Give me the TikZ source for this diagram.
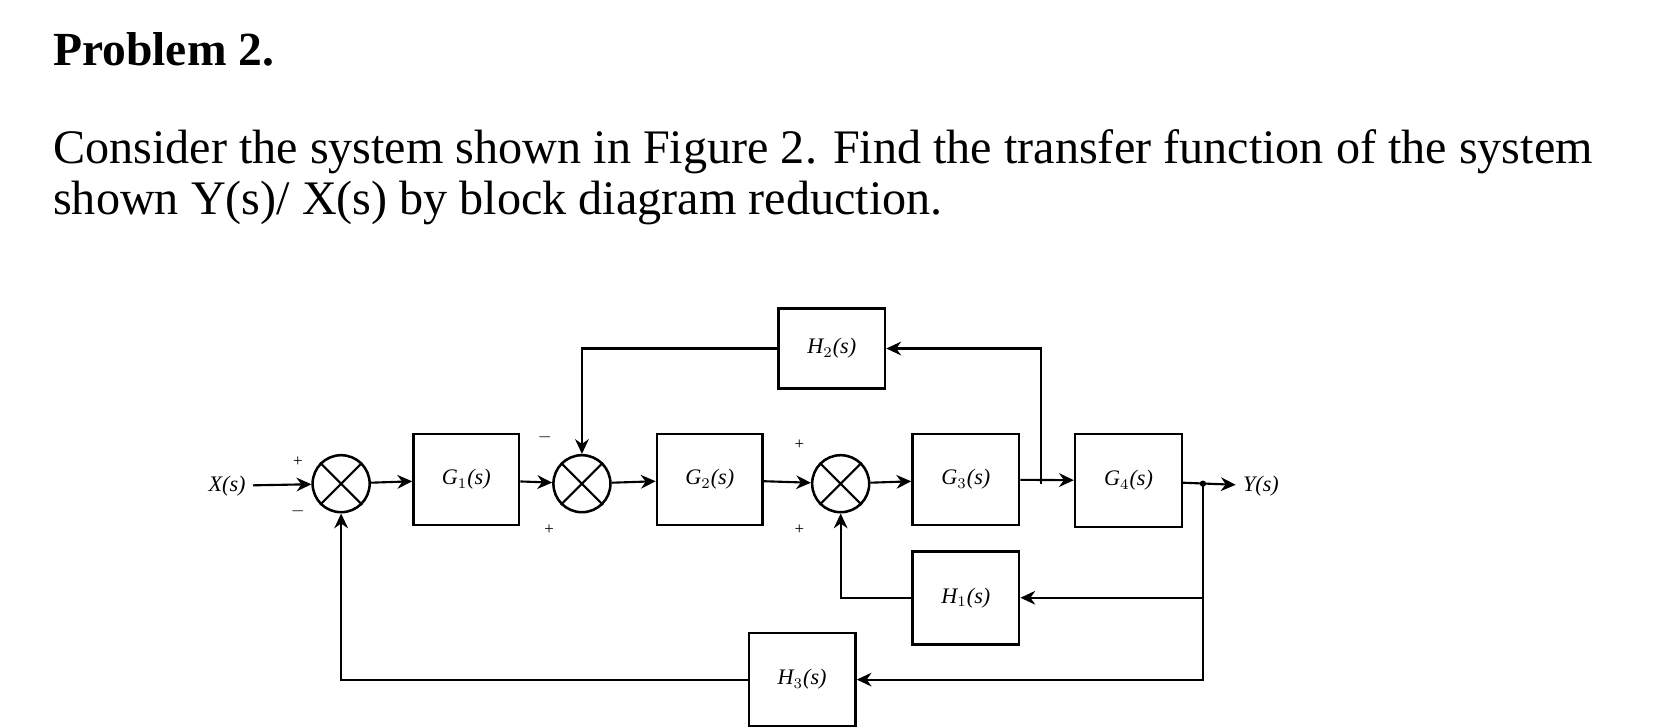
\documentclass[tikz,border=0pt]{standalone}
\usepackage{fontspec}
\setmainfont{Liberation Serif}
\usetikzlibrary{arrows.meta}
\begin{document}
\begin{tikzpicture}[x=0.5pt,y=-0.5pt,
  blk/.style={draw,line width=1.2pt,inner sep=0pt,font=\fontsize{10.5}{12}\selectfont\itshape},
  sm/.style={draw,circle,line width=1.2pt,minimum size=27pt,inner sep=0pt},
  ln/.style={line width=1pt},
  ar/.style={ln,-{Stealth[length=7pt,width=6.5pt]}},
  sg/.style={font=\fontsize{8}{9}\selectfont}]
\useasboundingbox (0,0) rectangle (1568,688.4);
\node[anchor=base west,inner sep=0pt,font=\fontsize{22.5}{24}\selectfont\bfseries] (title) at (50,62) {Problem 2.};
\node[anchor=base west,inner sep=0pt,font=\fontsize{22.8}{24}\selectfont] (l1) at (50,155) {Consider the system shown in Figure 2. Find the transfer function of the system};
\node[anchor=base west,inner sep=0pt,font=\fontsize{22.8}{24}\selectfont] (l2) at (50,203) {shown Y(s)/ X(s) by block diagram reduction.};

\node[font=\fontsize{10.5}{12}\selectfont\itshape] (x) at (215,460) {X(s)};
\node[sm] (s1) at (323,458) {};
\node[sm] (s2) at (551,458) {};
\node[sm] (s3) at (796,458) {};
\foreach \s in {s1,s2,s3}{\draw[ln] (\s.45)--(\s.225) (\s.135)--(\s.315);}
\node[blk,minimum width=50pt,minimum height=43pt] (g1) at (441.5,454) {G$_1$(s)};
\node[blk,minimum width=50pt,minimum height=43pt] (g2) at (672,454) {G$_2$(s)};
\node[blk,minimum width=50.5pt,minimum height=43pt] (g3) at (914.5,454) {G$_3$(s)};
\node[blk,minimum width=50.5pt,minimum height=44pt] (g4) at (1068.5,455) {G$_4$(s)};
\node[blk,minimum width=50.5pt,minimum height=38pt] (h2) at (787.5,330) {H$_2$(s)};
\node[blk,minimum width=50.5pt,minimum height=44pt] (h1) at (914.5,566) {H$_1$(s)};
\node[blk,minimum width=50.5pt,minimum height=44pt] (h3) at (759.5,643.5) {H$_3$(s)};
\node[font=\fontsize{10.5}{12}\selectfont\itshape,anchor=west] (y) at (1170,460) {Y(s)};
\coordinate (b1) at (986,458);
\coordinate (b2) at (1139,458);
\fill (b2) circle (3);

\draw[ar] (x) -- (s1);
\draw[ar] (s1) -- (g1);
\draw[ar] (g1) -- (s2);
\draw[ar] (s2) -- (g2);
\draw[ar] (g2) -- (s3);
\draw[ar] (s3) -- (g3);
\draw[ar] (g3) -- (g4);
\draw[ar] (g4) -- (y);
\draw[ar] (b1) |- (h2);
\draw[ar] (h2) -| (s2);
\draw[ar] (b2) |- (h1);
\draw[ar] (h1) -| (s3);
\draw[ar] (b2) |- (h3);
\draw[ar] (h3) -| (s1);

\node[sg] (p1) at (282,437) {+};
\node[sg] (m1) at (282,484) {$-$};
\node[sg] (m2) at (516,414) {$-$};
\node[sg] (p2) at (520,502) {+};
\node[sg] (p3) at (757,421) {+};
\node[sg] (p4) at (757,502) {+};
\end{tikzpicture}
\end{document}
